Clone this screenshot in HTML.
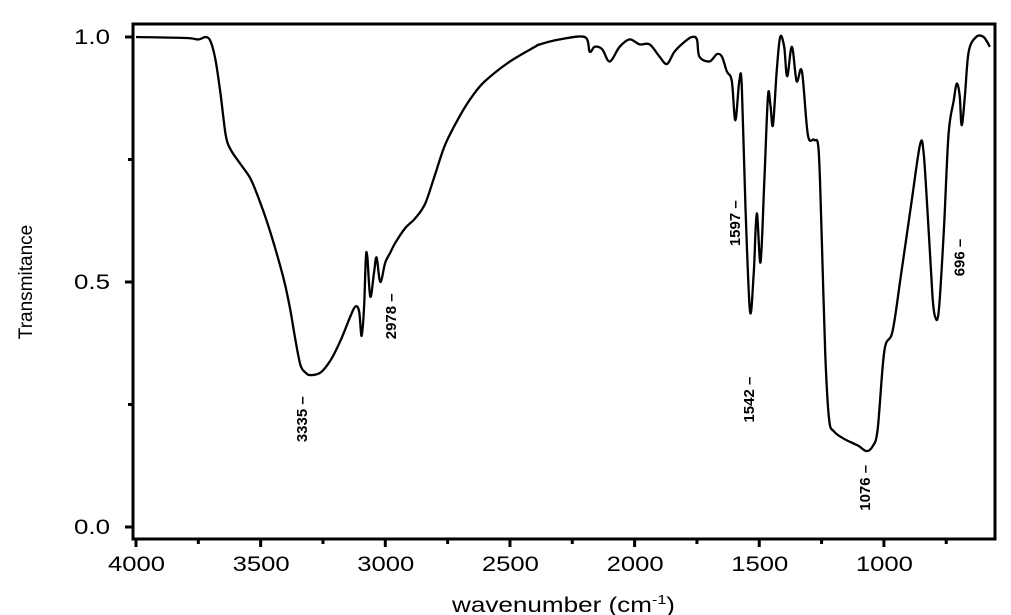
<!DOCTYPE html>
<html><head><meta charset="utf-8"><style>
body{margin:0;background:#fff;}
svg{display:block;font-family:"Liberation Sans",sans-serif;}
</style></head><body>
<svg id="chart" width="1011" height="615">
<rect x="133" y="24" width="862" height="515" fill="none" stroke="#000" stroke-width="3"/>
<g id="axes"></g>
<path id="spectrum" fill="none" stroke="#000" stroke-width="2.3" stroke-linejoin="round"/>
<g id="peaks"></g>
<text x="32" y="282" transform="rotate(-90 32 282)" text-anchor="middle" font-size="19">Transmitance</text>
<text x="452" y="612" font-size="21" textLength="223" lengthAdjust="spacingAndGlyphs">wavenumber (cm<tspan dy="-8" font-size="13">-1</tspan><tspan dy="8">)</tspan></text>
</svg>
<script>
const wavenumbers=[4000,3800,3750,3720,3700,3680,3660,3640,3620,3580,3540,3500,3460,3420,3400,3380,3360,3340,3320,3300,3260,3220,3180,3140,3120,3105,3095,3085,3078,3072,3060,3045,3035,3020,3000,2980,2960,2920,2880,2840,2800,2760,2700,2650,2600,2500,2400,2380,2300,2200,2180,2160,2130,2100,2060,2020,1980,1940,1900,1870,1840,1800,1770,1750,1740,1700,1670,1650,1630,1610,1596,1580,1570,1555,1537,1522,1510,1495,1480,1465,1455,1445,1430,1416,1400,1388,1369,1350,1329,1305,1280,1262,1250,1235,1220,1200,1160,1120,1100,1070,1045,1025,998,965,930,890,855,840,820,805,795,780,760,741,720,708,696,688,675,660,630,600,575];
const transmittance=[1.0,0.998,0.995,1.0,0.99,0.95,0.88,0.8,0.77,0.74,0.71,0.66,0.6,0.53,0.49,0.44,0.38,0.33,0.315,0.31,0.315,0.34,0.38,0.43,0.45,0.44,0.39,0.45,0.55,0.55,0.47,0.52,0.55,0.5,0.54,0.56,0.58,0.61,0.63,0.66,0.72,0.78,0.84,0.88,0.91,0.95,0.98,0.985,0.995,1.0,0.97,0.98,0.975,0.95,0.98,0.995,0.985,0.985,0.96,0.945,0.97,0.99,1.0,0.995,0.96,0.95,0.965,0.96,0.93,0.91,0.83,0.91,0.9,0.65,0.44,0.52,0.64,0.54,0.7,0.88,0.86,0.82,0.93,1.0,0.98,0.92,0.98,0.91,0.93,0.8,0.79,0.77,0.6,0.35,0.22,0.195,0.18,0.17,0.165,0.155,0.165,0.2,0.36,0.4,0.52,0.66,0.78,0.76,0.6,0.47,0.43,0.44,0.6,0.8,0.87,0.905,0.88,0.82,0.88,0.97,1.0,1.0,0.98];
const xTicks=[4000,3500,3000,2500,2000,1500,1000];
const xMinor=[3750,3250,2750,2250,1750,1250,750];
const yTicks=[0.0,0.5,1.0];
const yMinor=[0.25,0.75];
const peakLabels=[3335,2978,1597,1542,1076,696];
const peakLabelT=[0.22,0.43,0.62,0.26,0.08,0.55];
const X=w=>136+(4000-w)*0.2493;
const Y=t=>527-t*490;
const NS="http://www.w3.org/2000/svg";
const ax=document.getElementById('axes');
function mk(tag,attrs,parent){const e=document.createElementNS(NS,tag);for(const k in attrs)e.setAttribute(k,attrs[k]);parent.appendChild(e);return e;}
xTicks.forEach(v=>{
 const l=mk('line',{x1:X(v),x2:X(v),y1:539,y2:547,stroke:'#000','stroke-width':3},ax);
 
 
 const t=mk('text',{x:X(v)-28,y:571,'font-size':21,textLength:57,lengthAdjust:'spacingAndGlyphs'},ax);t.textContent=v;
 
 
});
xMinor.forEach(v=>{
 const l=mk('line',{x1:X(v),x2:X(v),y1:539,y2:544,stroke:'#000','stroke-width':3},ax);
 
 
});
yTicks.forEach(v=>{
 const l=mk('line',{x1:125,x2:133,y1:Y(v),y2:Y(v),stroke:'#000','stroke-width':3},ax);
 
 
 const t=mk('text',{x:74,y:Y(v)+7,'font-size':21,textLength:36,lengthAdjust:'spacingAndGlyphs'},ax);t.textContent=v.toFixed(1);
 
 
});
yMinor.forEach(v=>{
 const l=mk('line',{x1:128,x2:133,y1:Y(v),y2:Y(v),stroke:'#000','stroke-width':3},ax);
 
 
});
const pts=wavenumbers.map((w,i)=>[X(w),Y(transmittance[i])]);
let d='M'+pts[0][0]+','+pts[0][1];
for(let i=0;i<pts.length-1;i++){
 const p0=pts[Math.max(0,i-1)],p1=pts[i],p2=pts[i+1],p3=pts[Math.min(pts.length-1,i+2)];
 const c1=[p1[0]+(p2[0]-p0[0])/6,p1[1]+(p2[1]-p0[1])/6];
 const c2=[p2[0]-(p3[0]-p1[0])/6,p2[1]-(p3[1]-p1[1])/6];
 d+=` C${c1[0].toFixed(1)},${c1[1].toFixed(1)} ${c2[0].toFixed(1)},${c2[1].toFixed(1)} ${p2[0].toFixed(1)},${p2[1].toFixed(1)}`;
}
document.getElementById('spectrum').setAttribute('d',d);
const pk=document.getElementById('peaks');
peakLabels.forEach((v,i)=>{
 const x=X(v)+5,y=Y(peakLabelT[i]);
 const t=mk('text',{x:x,y:y,transform:`rotate(-90 ${x} ${y})`,'text-anchor':'middle','font-size':15,'font-weight':'bold'},pk);
 t.textContent=v+' –';
 
 
});
</script>
</body></html>
